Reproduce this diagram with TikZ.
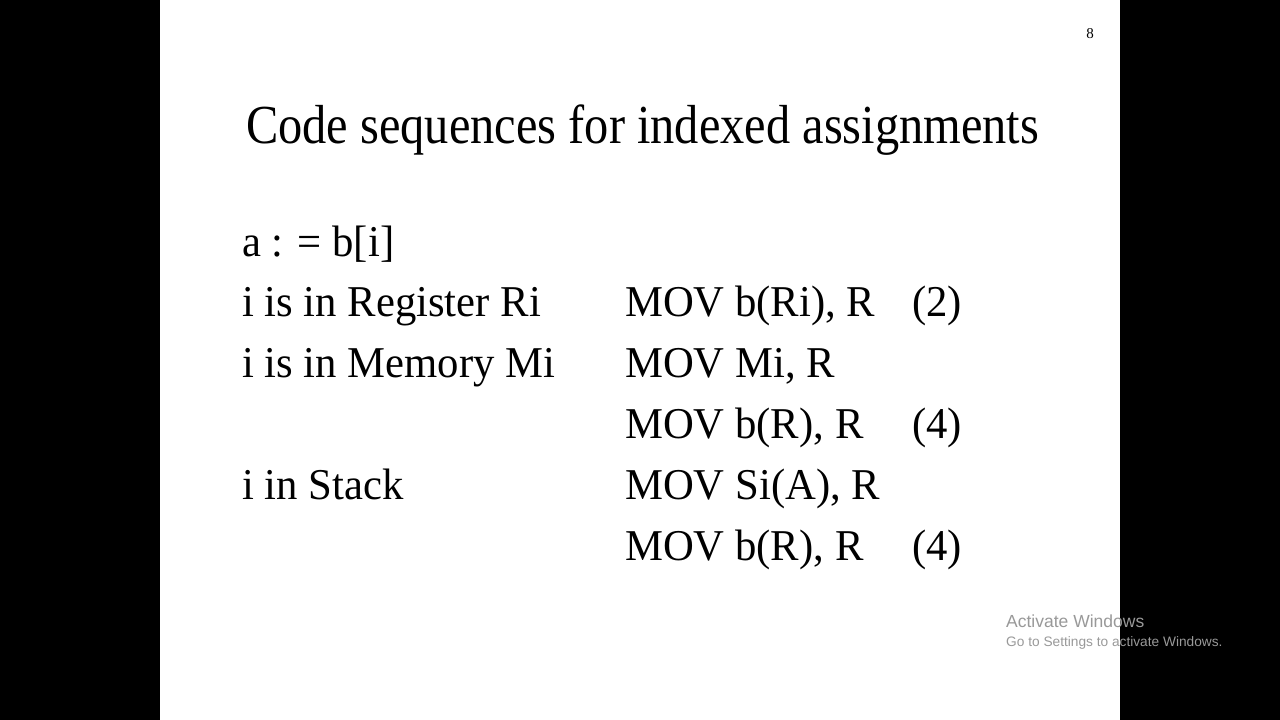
\documentclass[tikz,border=0pt]{standalone}
\usepackage{fontspec}
\setmainfont{Liberation Serif}
\newfontfamily\wmfont{Liberation Sans}
\begin{document}
\begin{tikzpicture}[x=1pt,y=-1pt,
  txt/.style={anchor=base west,inner sep=0pt,xscale=0.97,font=\fontsize{44}{44}\selectfont},
  wm/.style={anchor=base west,inner sep=0pt,text=black!40,font=\wmfont\fontsize{17.5}{17.5}\selectfont}]
\fill[black] (0,0) rectangle (1280,720);
\fill[white] (160,0) rectangle (1120,720);
\useasboundingbox (0,0) rectangle (1280,720);
\node[anchor=base east,inner sep=0pt,font=\fontsize{15}{15}\selectfont] (pg) at (1094,38) {8};
\node[anchor=base west,inner sep=0pt,xscale=0.88,font=\fontsize{55}{55}\selectfont] (title) at (246,143) {Code sequences for indexed assignments};
\node[txt] (l0) at (242,256) {a : = b[i]};
\node[txt] (l1) at (242,316) {i is in Register Ri};
\node[txt] (l2) at (242,377) {i is in Memory Mi};
\node[txt] (l3) at (242,499) {i in Stack};
\node[txt] (r1) at (625,316) {MOV b(Ri), R};
\node[txt] (r2) at (625,377) {MOV Mi, R};
\node[txt] (r3) at (625,438) {MOV b(R), R};
\node[txt] (r4) at (625,499) {MOV Si(A), R};
\node[txt] (r5) at (625,560) {MOV b(R), R};
\node[txt] (c1) at (912,316) {(2)};
\node[txt] (c2) at (912,438) {(4)};
\node[txt] (c3) at (912,560) {(4)};
\node[wm] (w1) at (1006,627) {Activate Windows};
\node[wm,font=\wmfont\fontsize{13.7}{13.7}\selectfont] (w2) at (1006,646) {Go to Settings to activate Windows.};
\end{tikzpicture}
\end{document}
